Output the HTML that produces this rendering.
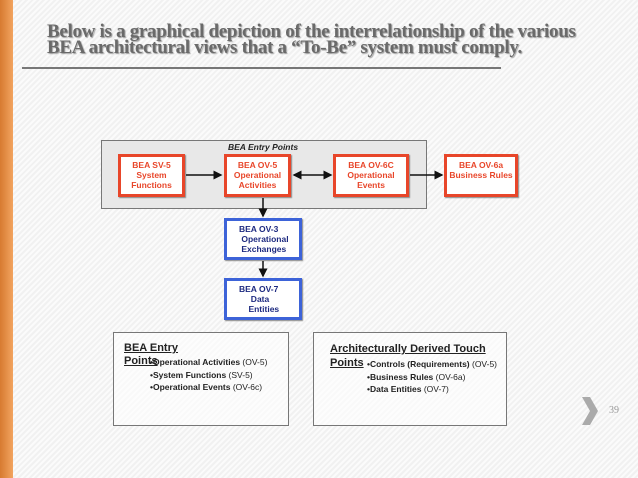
<!DOCTYPE html><html><head><style>
body{margin:0;width:638px;height:478px;overflow:hidden;font-family:"Liberation Sans",sans-serif;background:repeating-linear-gradient(135deg,#fbfbfb 0 2px,#f1f1f1 2px 4px);position:relative}
.a{position:absolute}
.t{left:47px;top:24px;font-family:"Liberation Serif",serif;font-weight:bold;font-size:19px;line-height:16px;color:#6a6a6a;text-shadow:1px 1px 1px #999;letter-spacing:-0.3px}
.b{position:absolute;background:#fff;box-sizing:border-box;font-size:8.5px;font-weight:bold;text-align:center;line-height:10px;padding-top:3px}
.r{border:3px solid #e8462a;color:#e8462a;box-shadow:1px 1px 1px #888}
.u{border:3px solid #3d63d8;color:#1d2a80;box-shadow:1px 1px 1px #888}
.p{position:absolute;border:1.5px solid #777;background:rgba(255,255,255,.6);box-sizing:border-box;font-size:8.5px;color:#222}
</style></head><body>
<div class="a" style="left:0;top:0;width:13px;height:478px;background:linear-gradient(90deg,#d77a30,#f2a460)"></div>
<div class="a t">Below is a graphical depiction of the interrelationship of the various<br>BEA architectural views that a “To-Be” system must comply.</div>
<div class="a" style="left:22px;top:67px;width:479px;height:2px;background:#777"></div>
<div class="a" style="left:101px;top:140px;width:326px;height:69px;border:1px solid #777;background:#e8e8e8;box-sizing:border-box"></div>
<div class="a" style="left:228px;top:142px;font-size:8.5px;font-style:italic;font-weight:bold;color:#222">BEA Entry Points</div>
<div class="b r" style="left:118px;top:154px;width:67px;height:43px">BEA SV-5<br>System<br>Functions</div>
<div class="b r" style="left:224px;top:154px;width:67px;height:43px">BEA OV-5<br>Operational<br>Activities</div>
<div class="b r" style="left:333px;top:154px;width:76px;height:43px">BEA OV-6C<br>Operational<br>Events</div>
<div class="b r" style="left:444px;top:154px;width:74px;height:43px">BEA OV-6a<br>Business Rules</div>
<div class="b u" style="left:224px;top:218px;width:78px;height:42px;text-align:left;padding-left:12px">BEA OV-3<br>&nbsp;Operational<br>&nbsp;Exchanges</div>
<div class="b u" style="left:224px;top:278px;width:78px;height:42px;text-align:left;padding-left:12px">BEA OV-7<br>&nbsp;&nbsp;&nbsp;&nbsp;&nbsp;Data<br>&nbsp;&nbsp;&nbsp;&nbsp;Entities</div>
<svg class="a" style="left:0;top:0" width="638" height="478"><defs><marker id="m" markerWidth="6" markerHeight="6" refX="5" refY="3" orient="auto-start-reverse"><path d="M0,0L6,3L0,6z" fill="#111"/></marker></defs>
<g stroke="#111" stroke-width="1.5" fill="none">
<line x1="186" y1="175" x2="221" y2="175" marker-end="url(#m)"/>
<line x1="294" y1="175" x2="331" y2="175" marker-end="url(#m)" marker-start="url(#m)"/>
<line x1="410" y1="175" x2="442" y2="175" marker-end="url(#m)"/>
<line x1="263" y1="198" x2="263" y2="216" marker-end="url(#m)"/>
<line x1="263" y1="261" x2="263" y2="276" marker-end="url(#m)"/>
</g></svg>
<div class="p" style="left:113px;top:332px;width:176px;height:94px">
<div class="a" style="left:10px;top:9px;font-size:11px;font-weight:bold;text-decoration:underline;line-height:13px">BEA Entry<br>Points</div>
<div class="a" style="left:36px;top:23px;line-height:12.5px"><b>•Operational Activities</b> (OV-5)<br><b>•System Functions</b> (SV-5)<br><b>•Operational Events</b> (OV-6c)</div></div>
<div class="p" style="left:313px;top:332px;width:194px;height:94px">
<div class="a" style="left:16px;top:9px;font-size:11px;font-weight:bold;text-decoration:underline;line-height:14px">Architecturally Derived Touch<br>Points</div>
<div class="a" style="left:53px;top:25px;line-height:12.5px"><b>•Controls (Requirements)</b> (OV-5)<br><b>•Business Rules</b> (OV-6a)<br><b>•Data Entities</b> (OV-7)</div></div>
<svg class="a" style="left:580px;top:396px" width="20" height="30"><path d="M2,1L10,1L18,15L10,29L2,29L10,15z" fill="#aaa"/></svg>
<div class="a" style="left:609px;top:405px;font-family:'Liberation Serif',serif;font-size:10px;color:#999">39</div>
</body></html>
